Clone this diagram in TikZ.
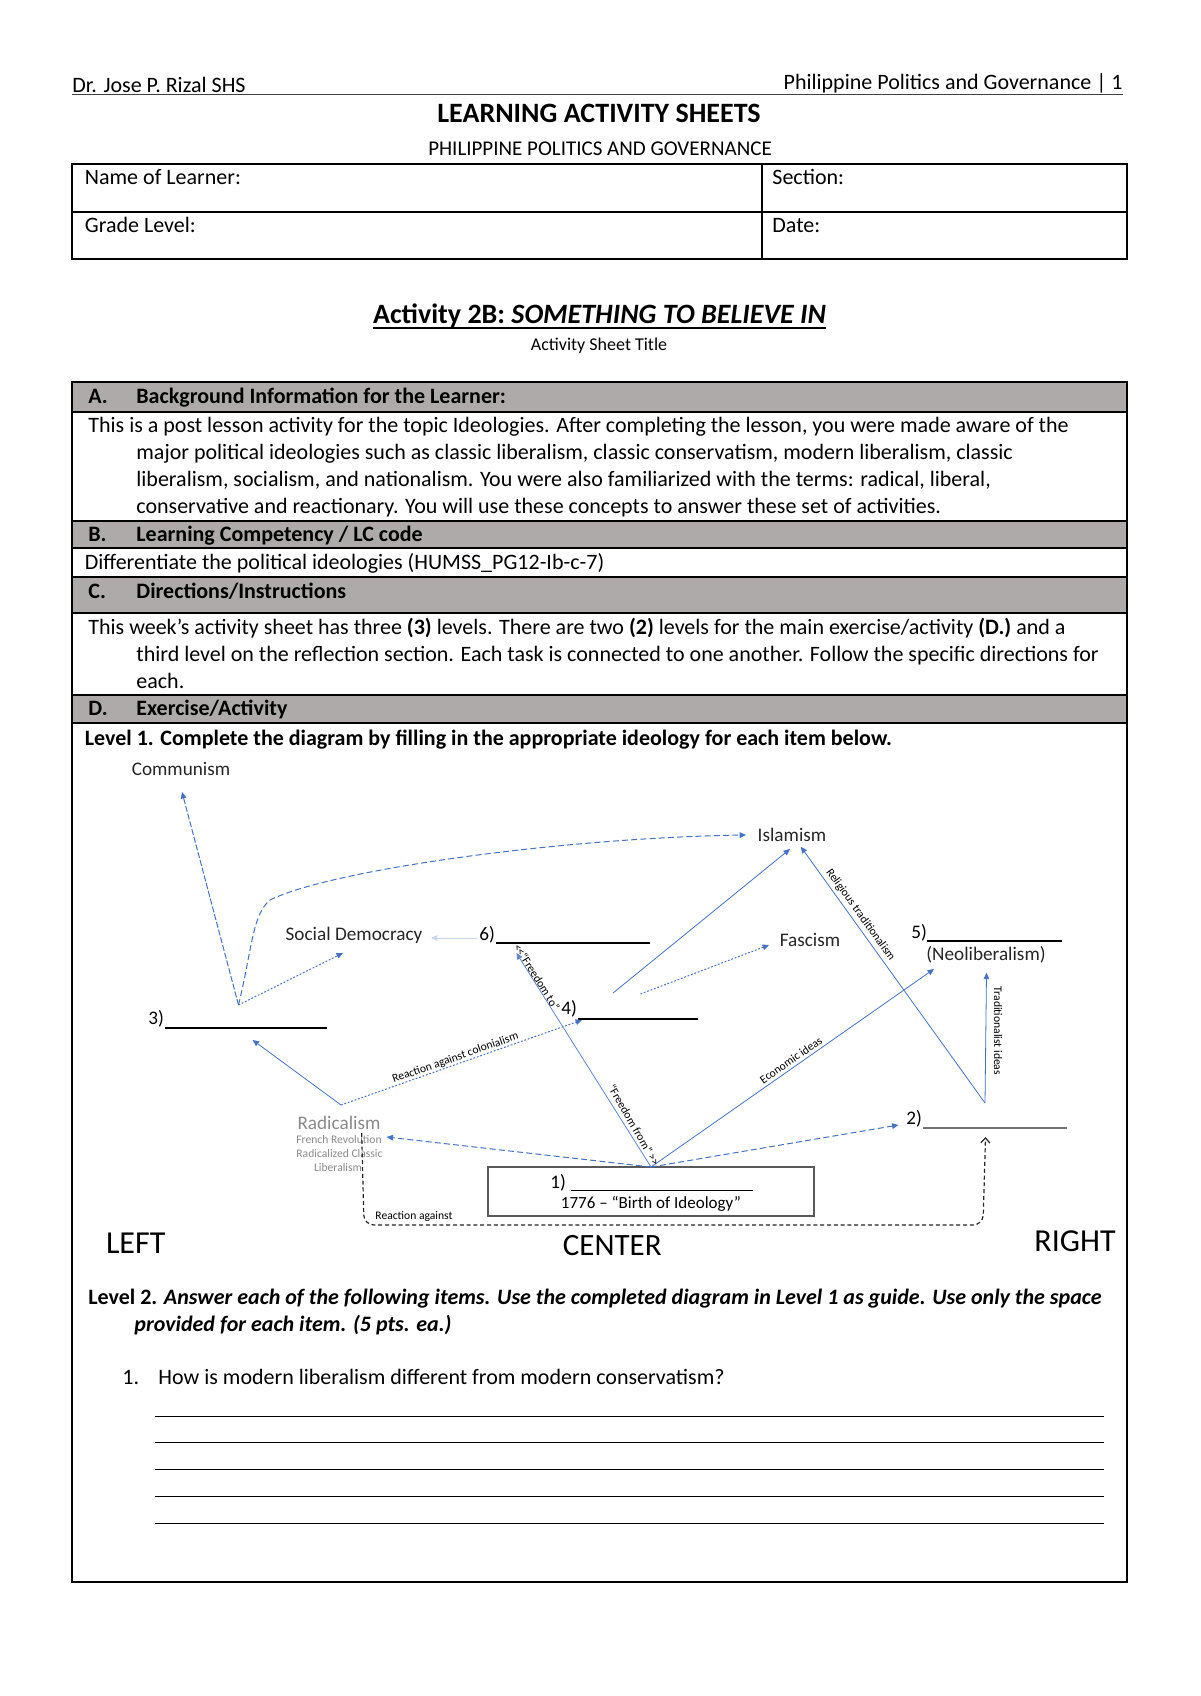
\documentclass[tikz,border=0pt]{standalone}
\usepackage{fontspec}
\setmainfont{Carlito}
\usetikzlibrary{arrows.meta}
\definecolor{wblue}{HTML}{4472C4}
\definecolor{lblue}{HTML}{8FAADC}
\definecolor{vlblue}{HTML}{C9D6EE}
\definecolor{hgray}{HTML}{AEAAAA}
\definecolor{rgray}{HTML}{8A8A8A}
\newcommand\myfs[1]{\fontsize{#1}{#1}\selectfont}
\tikzset{
  t/.style={inner sep=0pt, anchor=base west, font=\myfs{11}},
  tb/.style={t, font=\myfs{11}\bfseries},
  lab/.style={inner sep=0pt, font=\myfs{9.6}},
  blanklab/.style={inner sep=0pt, anchor=base west, font=\myfs{9.6}},
  tiny/.style={inner sep=0pt, font=\myfs{5.8}},
  big/.style={inner sep=0pt, font=\myfs{16}},
  ar/.style={draw=wblue, line width=0.5pt, -{Triangle[length=3.2pt,width=2.8pt]}},
  dsh/.style={dash pattern=on 3pt off 1.6pt},
  dts/.style={dash pattern=on 0.9pt off 0.9pt},
  bord/.style={line width=1pt},
  blankline/.style={line width=0.6pt, black}
}
\begin{document}
\begin{tikzpicture}[x=0.5pt,y=-0.5pt]
\useasboundingbox (0,0) rectangle (1200,1696);
\fill[white] (0,0) rectangle (1200,1696);

% ---------- page header ----------
\node[t] (hl) at (72,93) {Dr. Jose P. Rizal SHS};
\node[inner sep=0pt, anchor=base east, font=\myfs{11}] (hr) at (1123,90) {Philippine Politics and Governance | 1};
\draw[line width=0.6pt, black!75] (72,94.5) -- (1123,94.5);

\node[inner sep=0pt, anchor=base, font=\myfs{14}\bfseries] (title) at (599,123) {LEARNING ACTIVITY SHEETS};
\node[inner sep=0pt, anchor=base, font=\myfs{10.5}] (subt) at (600,156) {PHILIPPINE POLITICS AND GOVERNANCE};

% ---------- learner table ----------
\draw[bord] (71.5,164.5) rectangle (1126.5,259.5);
\draw[bord] (71.5,212) -- (1126.5,212);
\draw[bord] (762,164.5) -- (762,259.5);
\node[t] (nm) at (84.5,185) {Name of Learner:};
\node[t] (sec) at (772,185) {Section:};
\node[t] (gl) at (84.5,233) {Grade Level:};
\node[t] (dt) at (772,233) {Date:};

% ---------- activity title ----------
\node[inner sep=0pt, anchor=base, font=\myfs{14}\bfseries] (act) at (599.5,323) {Activity 2B: \textit{SOMETHING TO BELIEVE IN}};
\draw[line width=1.1pt] ([yshift=-2.6pt]act.base west) -- ([yshift=-2.6pt]act.base east);
\node[inner sep=0pt, anchor=base, font=\myfs{9}] (ast) at (599,350) {Activity Sheet Title};

% ---------- main table ----------
\fill[hgray] (71.5,382) rectangle (1126.5,412);
\fill[hgray] (71.5,521) rectangle (1126.5,548);
\fill[hgray] (71.5,577) rectangle (1126.5,613);
\fill[hgray] (71.5,695) rectangle (1126.5,723);
\draw[bord] (71.5,382) rectangle (1126.5,1582);
\foreach \yy in {412,521,548,577,613,695,723}{
  \draw[bord] (71.5,\yy) -- (1126.5,\yy);
}
% A
\node[tb] (ha) at (88,403) {A.};
\node[tb] (hat) at (136,403) {Background Information for the Learner:};
\node[t] (a1) at (88,432) {This is a post lesson activity for the topic Ideologies. After completing the lesson, you were made aware of the};
\node[t] (a2) at (136,459) {major political ideologies such as classic liberalism, classic conservatism, modern liberalism, classic};
\node[t] (a3) at (136,486) {liberalism, socialism, and nationalism. You were also familiarized with the terms: radical, liberal,};
\node[t] (a4) at (136,513) {conservative and reactionary. You will use these concepts to answer these set of activities.};
% B
\node[tb] (hb) at (88,541) {B.};
\node[tb] (hbt) at (136,541) {Learning Competency / LC code};
\node[t] (b1) at (84.5,569) {Differentiate the political ideologies (HUMSS\_PG12-Ib-c-7)};
% C
\node[tb] (hc) at (88,598.5) {C.};
\node[tb] (hct) at (136,598.5) {Directions/Instructions};
\node[t] (c1) at (88,634) {This week’s activity sheet has three \textbf{(3)} levels. There are two \textbf{(2)} levels for the main exercise/activity \textbf{(D.)} and a};
\node[t] (c2) at (136,661) {third level on the reflection section. Each task is connected to one another. Follow the specific directions for};
\node[t] (c3) at (136,688) {each.};
% D
\node[tb] (hd) at (88,715.5) {D.};
\node[tb] (hdt) at (136,715.5) {Exercise/Activity};
\node[tb] (lv1) at (84.5,745.5) {Level 1. Complete the diagram by filling in the appropriate ideology for each item below.};

% ---------- diagram: text nodes ----------
\node[lab, text=black!85] (comm) at (181,769) {Communism};
\node[lab, text=black!85] (socd) at (354,935) {Social Democracy};
\node[lab, text=black!85] (isl) at (792,835) {Islamism};
\node[lab, text=black!85] (fasc) at (810,940) {Fascism};
\node[lab, text=black!85] (neo) at (986,955) {(Neoliberalism)};
\node[lab, text=rgray] (rad) at (339,1123) {Radicalism};
\node[tiny, text=rgray] (rad1) at (339,1140) {French Revolution};
\node[tiny, text=rgray] (rad2) at (339.5,1154) {Radicalized Classic};
\node[tiny, text=rgray] (rad3) at (338,1168) {Liberalism};

\node[big] (left) at (135.7,1243) {LEFT};
\node[inner sep=0pt, font=\myfs{15.5}] (center) at (612.3,1246) {CENTER};
\node[big] (right) at (1075,1241) {RIGHT};

% blanks
\node[blanklab] (b6) at (479,940) {6)};
\draw[blankline] (496,943) -- (650,943);
\node[blanklab] (b3) at (148,1024) {3)};
\draw[blankline] (165,1028) -- (327,1028);
\node[blanklab] (b4) at (561,1014) {4)};
\draw[blankline] (578,1019) -- (698,1019);
\node[blanklab] (b5) at (911,938) {5)};
\draw[blankline] (927,941) -- (1062,941);
\node[blanklab] (b2) at (906,1124) {2)};
\draw[line width=0.6pt, black!55] (923,1128) -- (1067,1128);

% box 1)
\draw[line width=0.8pt, black!65] (488,1167) rectangle (814,1216);
\node[inner sep=0pt, anchor=base west, font=\myfs{9.6}] (b1x) at (550,1188) {1)};
\draw[line width=0.5pt] (571,1190) -- (753,1190);
\node[inner sep=0pt, anchor=base, font=\myfs{8.5}] (birth) at (651,1208) {1776 – “Birth of Ideology”};

% ---------- diagram: coordinates ----------
\coordinate (lh) at (238.5,1005);
\coordinate (tcomm) at (182,792);
\coordinate (tsocd) at (343,953);
\coordinate (tisl1) at (746,835);
\coordinate (s6) at (477,938);
\coordinate (t6) at (431,938);
\coordinate (r0) at (341,1105);
\coordinate (t3) at (252.6,1040);
\coordinate (t4) at (582,1020);
\coordinate (hub) at (651,1167);
\coordinate (trad) at (386.6,1137);
\coordinate (t2) at (898.5,1125);
\coordinate (tfree) at (516.4,953);
\coordinate (t5) at (934,969);
\coordinate (f0) at (613,993);
\coordinate (tisl2) at (790,849);
\coordinate (f1) at (640.5,994);
\coordinate (tfasc) at (769,945);
\coordinate (rr) at (985,1103);
\coordinate (tisl3) at (800.8,846.7);
\coordinate (tneo) at (986.5,972.7);
\coordinate (dstart) at (361.7,1133);
\coordinate (dtip) at (985.5,1137);

% ---------- diagram: connectors ----------
\draw[ar, dash pattern=on 3pt off 1pt] (lh) -- (tcomm);
\draw[ar, dts] (lh) -- (tsocd);
\draw[ar, dsh] (lh) .. controls (252,950) and (252,915) .. (270,900) .. controls (330,870) and (560,838) .. (tisl1);
\draw[ar, draw=vlblue] (s6) -- (t6);
\draw[ar, line width=0.4pt] (r0) -- (t3);
\draw[ar, dts] (r0) -- (t4);
\draw[ar, dsh] (hub) -- (trad);
\draw[ar, dsh] (hub) -- (t2);
\draw[ar, line width=0.4pt, draw=wblue!85] (hub) -- (tfree);
\draw[ar, line width=0.4pt] (hub) -- (t5);
\draw[ar, line width=0.4pt] (f0) -- (tisl2);
\draw[ar, dts] (f1) -- (tfasc);
\draw[ar, line width=0.4pt] (rr) -- (tisl3);
\draw[ar, line width=0.4pt] (rr) -- (tneo);
\draw[black!85, line width=0.6pt, dash pattern=on 2pt off 1.4pt, rounded corners=5pt, -{Straight Barb[length=2.5pt,width=4.5pt]}]
  (dstart) -- (364,1225) -- (983,1225) -- (dtip);

% ---------- diagram: connector labels ----------
\node[tiny, rotate=19.4] (lcol) at (455.5,1058) {Reaction against colonialism};
\node[tiny, rotate=34.8] (leco) at (791,1060) {Economic ideas};
\node[tiny, rotate=-54.3] (lrel) at (860.5,915) {Religious traditionalism};
\node[tiny, rotate=-90] (ltrad) at (998,1031) {Traditionalist ideas};
\node[tiny, rotate=-57.8] (lfto) at (537,977) {<{}<“Freedom to”};
\node[tiny, rotate=-60] (lffr) at (634,1125) {“Freedom from” >{}>};
\node[tiny, anchor=base west] (lreac) at (375,1219) {Reaction against};

% ---------- level 2 ----------
\node[tb] (lv2) at (88,1304) {Level 2. \textit{Answer each of the following items. Use the completed diagram in Level 1 as guide. Use only the space}};
\node[tb] (lv2b) at (134,1331) {\textit{provided for each item. (5 pts. ea.)}};
\node[t] (q1n) at (122,1384) {1.};
\node[t] (q1) at (158,1384) {How is modern liberalism different from modern conservatism?};
\foreach \yy in {1416.5,1442.5,1469.5,1496.5,1523.5}{
  \draw[line width=0.6pt] (155,\yy) -- (1104,\yy);
}
\end{tikzpicture}
\end{document}
